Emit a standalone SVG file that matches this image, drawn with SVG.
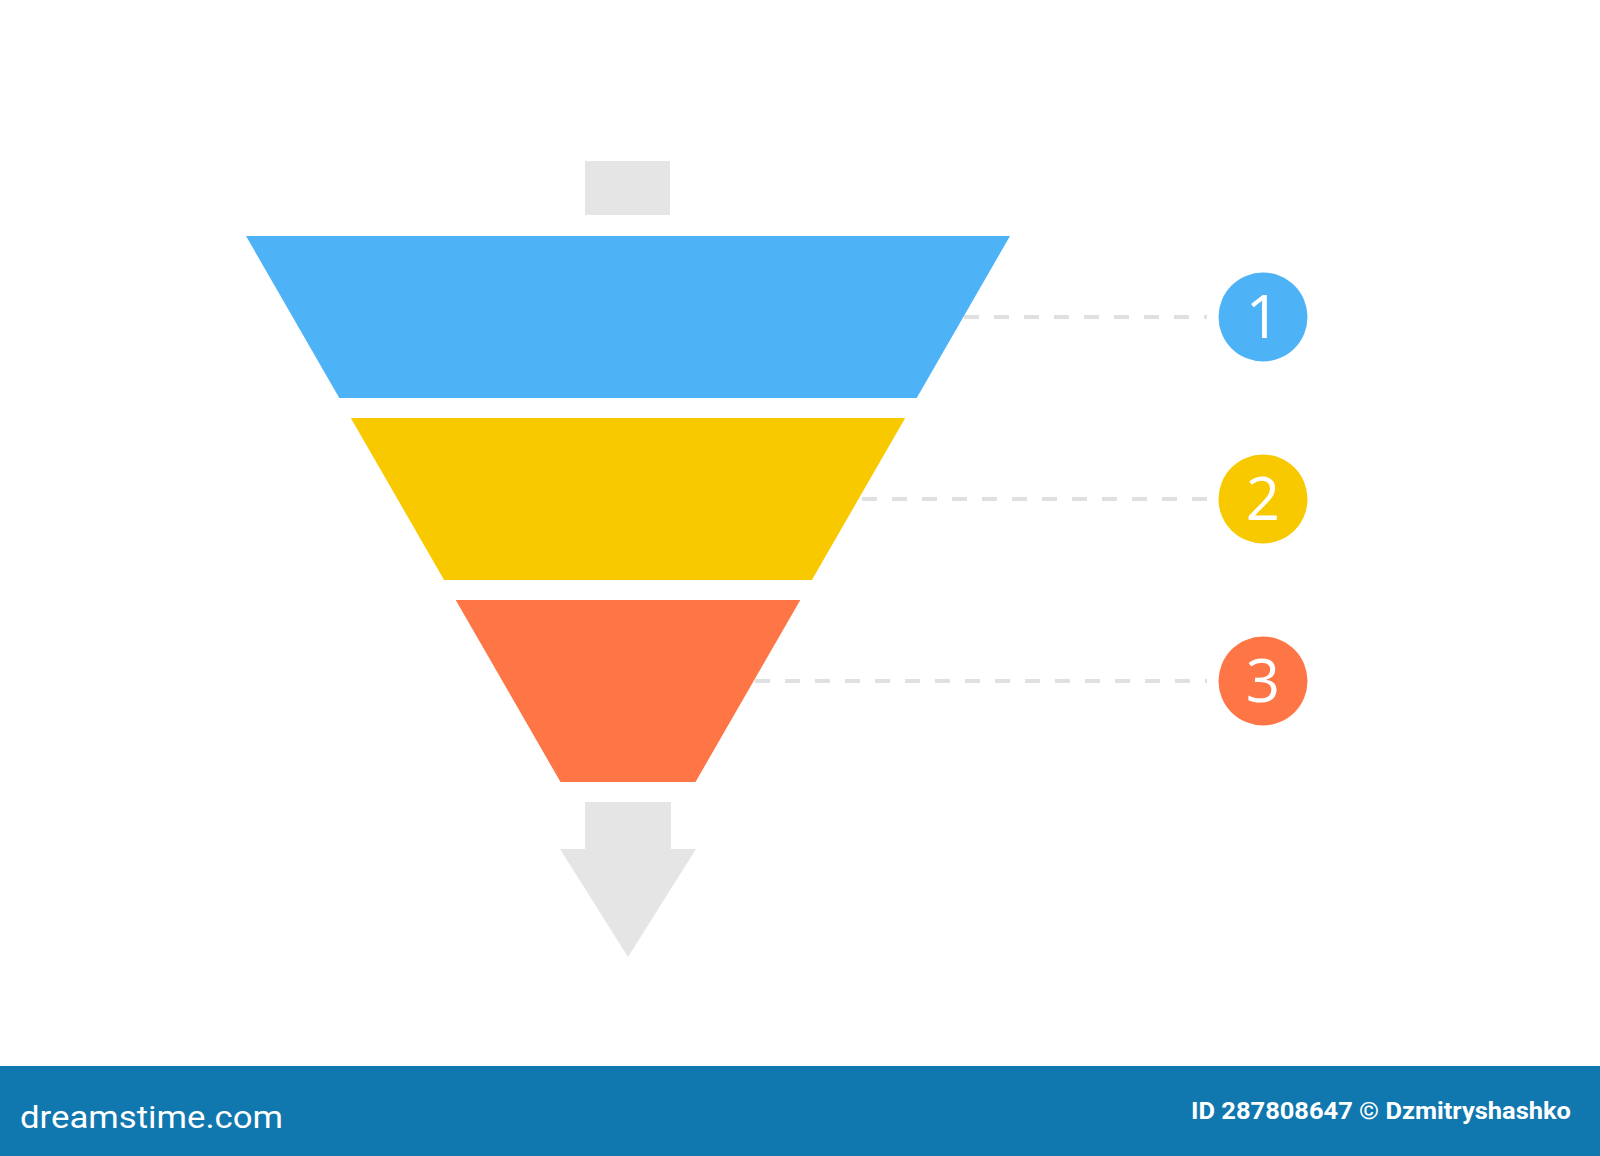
<svg xmlns="http://www.w3.org/2000/svg" width="1600" height="1156" viewBox="0 0 1600 1156">
  <style>
    .arrow { fill: #e5e5e5; }
    .dash { stroke: #e0e0e0; stroke-width: 4; stroke-dasharray: 15 15; fill: none; }
    .num { fill: #ffffff; font-family: "Open Sans", "Noto Sans", sans-serif; font-size: 60px; text-anchor: middle; }
    .foot { fill: #ffffff; font-family: Roboto, "Liberation Sans", sans-serif; font-weight: bold; }
  </style>
  <rect x="0" y="0" width="1600" height="1156" fill="#ffffff"/>

  <g id="input-arrow">
    <rect class="arrow" x="585" y="161" width="85" height="54"/>
  </g>

  <g id="stage-1">
    <polygon points="246,236 1010,236 916.7,398 339.3,398" fill="#4eb3f6"/>
  </g>
  <g id="stage-2">
    <polygon points="350.8,418 905.2,418 811.9,580 444.1,580" fill="#f9c900"/>
  </g>
  <g id="stage-3">
    <polygon points="455.7,600 800.3,600 695.5,782 560.5,782" fill="#fe7646"/>
  </g>

  <g id="output-arrow">
    <polygon class="arrow" points="585,802 671,802 671,849 696,849 628,957 560,849 585,849"/>
  </g>

  <g id="connectors">
    <line class="dash" x1="964" y1="317" x2="1207" y2="317"/>
    <line class="dash" x1="862" y1="499" x2="1207" y2="499"/>
    <line class="dash" x1="755" y1="681" x2="1207" y2="681"/>
  </g>

  <g id="badge-1">
    <circle cx="1263" cy="317" r="44.5" fill="#4eb3f6"/>
    <text class="num" x="1263" y="338">1</text>
  </g>
  <g id="badge-2">
    <circle cx="1263" cy="499" r="44.5" fill="#f9c900"/>
    <text class="num" x="1263" y="520">2</text>
  </g>
  <g id="badge-3">
    <circle cx="1263" cy="681" r="44.5" fill="#fe7646"/>
    <text class="num" x="1263" y="702">3</text>
  </g>

  <g id="footer">
    <rect x="0" y="1066" width="1600" height="90" fill="#1077af"/>
    <text class="foot" x="20" y="1128" font-size="32" font-weight="normal" textLength="263" lengthAdjust="spacingAndGlyphs" style="font-weight:normal">dreamstime.com</text>
    <text class="foot" x="1191" y="1119" font-size="23" textLength="380" lengthAdjust="spacingAndGlyphs">ID 287808647 © Dzmitryshashko</text>
  </g>
</svg>
